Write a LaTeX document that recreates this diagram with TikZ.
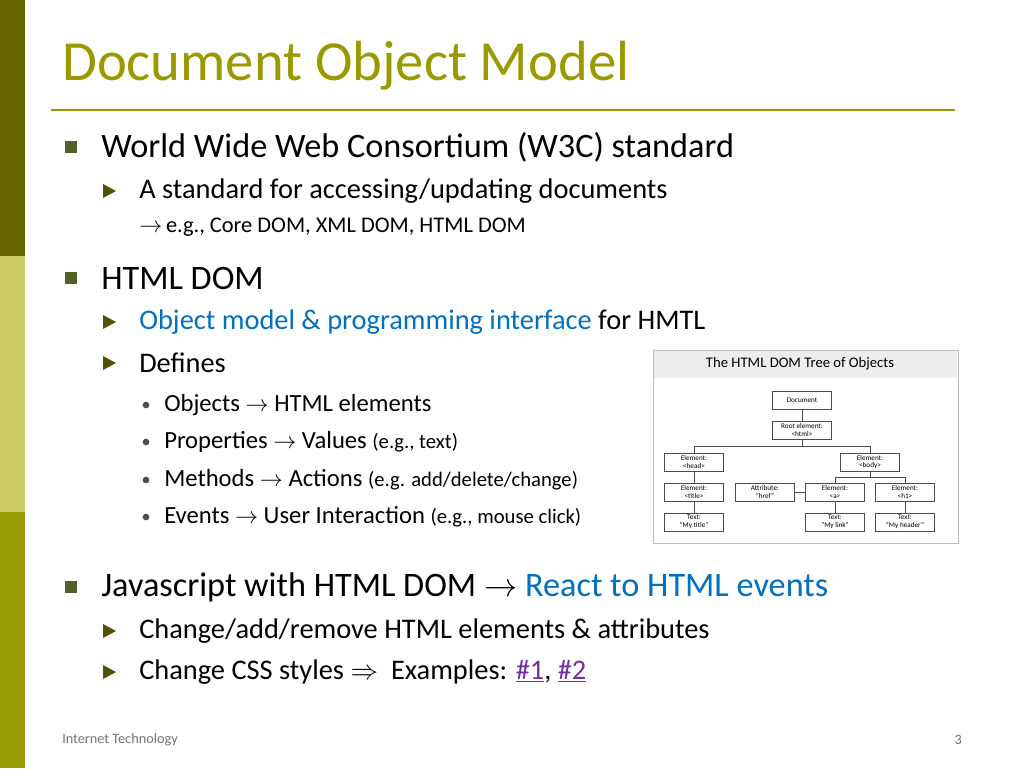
\documentclass[tikz,border=0pt]{standalone}
\usepackage{fontspec}
\setmainfont{Carlito}
\usetikzlibrary{positioning}
\definecolor{olive}{HTML}{999900}
\definecolor{darkolive}{HTML}{666600}
\definecolor{lightolive}{HTML}{CCCC66}
\definecolor{bulletgreen}{HTML}{4F6228}
\definecolor{linkblue}{HTML}{0070C0}
\definecolor{linkpurple}{HTML}{7030A0}
\newcommand{\rarr}{$\rightarrow$}
\newcommand{\remark}[1]{{\fontsize{15.5}{18}\selectfont #1}}

\begin{document}
\begin{tikzpicture}[x=0.75pt,y=-0.75pt]
    \tikzstyle{lvlone}=[anchor=west,inner sep=0pt,font=\fontsize{25.7}{30}\selectfont]
    \tikzstyle{lvltwo}=[anchor=west,inner sep=0pt,font=\fontsize{21.3}{25}\selectfont]
    \tikzstyle{lvlthree}=[anchor=west,inner sep=0pt,font=\fontsize{18.5}{22}\selectfont]
    \tikzstyle{sq}=[fill=bulletgreen,minimum size=9pt,inner sep=0pt]
    \tikzstyle{tri}=[fill=darkolive!80!black]
    \tikzstyle{dot}=[circle,fill=black!70,minimum size=5pt,inner sep=0pt]
    \tikzstyle{dom}=[draw=black!70,fill=white,minimum width=44pt,minimum height=13.5pt,inner sep=0pt,align=center,font=\fontsize{5.4}{5.8}\selectfont]
    \tikzstyle{link}=[draw=black!70,line width=0.6pt]

    \useasboundingbox (0,0) rectangle (1024,768);
    \fill[white] (0,0) rectangle (1024,768);
    % side bars
    \fill[darkolive] (0,0) rectangle (25,256);
    \fill[lightolive] (0,256) rectangle (25,512);
    \fill[olive] (0,512) rectangle (25,768);

    % title
    \node[anchor=west,inner sep=0pt,text=olive,font=\fontsize{42.5}{46}\selectfont] (title) at (62,66) {Document Object Model};
    \draw[olive,line width=1.5pt] (51,110) -- (955,110);

    % bullets
    \node[sq] (b1) at (71,147) {};
    \node[lvlone] (t1) at (101,147) {World Wide Web Consortium (W3C) standard};
    \fill[tri] (103,184) -- (116,191) -- (103,198) -- cycle;
    \node[lvltwo] (t11) at (139,191) {A standard for accessing/updating documents};
    \node[anchor=west,inner sep=0pt,font=\fontsize{16.8}{19}\selectfont] (t111) at (139,227) {\rarr\,e.g., Core DOM, XML DOM, HTML DOM};

    \node[sq] (b2) at (71,278) {};
    \node[lvlone] (t2) at (101,278) {HTML DOM};
    \fill[tri] (103,315) -- (116,322) -- (103,329) -- cycle;
    \node[lvltwo] (t21) at (139,322) {\textcolor{linkblue}{Object model \& programming interface} for HMTL};
    \fill[tri] (103,356) -- (116,363) -- (103,370) -- cycle;
    \node[lvltwo] (t22) at (139,363) {Defines};
    \node[dot] at (146,405) {};
    \node[lvlthree] (d1) at (164,405) {Objects \rarr\ HTML elements};
    \node[dot] at (146,442) {};
    \node[lvlthree] (d2) at (164,442) {Properties \rarr\ Values \remark{(e.g., text)}};
    \node[dot] at (146,480) {};
    \node[lvlthree] (d3) at (164,480) {Methods \rarr\ Actions \remark{(e.g. add/delete/change)}};
    \node[dot] at (146,517) {};
    \node[lvlthree] (d4) at (164,517) {Events \rarr\ User Interaction \remark{(e.g., mouse click)}};

    \node[sq] (b3) at (71,587) {};
    \node[lvlone] (t3) at (101,587) {Javascript with HTML DOM \rarr\ \textcolor{linkblue}{React to HTML events}};
    \fill[tri] (103,624) -- (116,631) -- (103,638) -- cycle;
    \node[lvltwo] (t31) at (139,631) {Change/add/remove HTML elements \& attributes};
    \fill[tri] (103,665) -- (116,672) -- (103,679) -- cycle;
    \node[lvltwo] (t32) at (139,672) {Change CSS styles $\Rightarrow$\ \ Examples: \textcolor{linkpurple}{\underline{\#1}}, \textcolor{linkpurple}{\underline{\#2}}};

    % footer
    \node[anchor=west,inner sep=0pt,text=black!55,font=\fontsize{10.7}{12}\selectfont] (foot) at (62,740) {Internet Technology};
    \node[anchor=east,inner sep=0pt,text=black!55,font=\fontsize{10.7}{12}\selectfont] (page) at (962,740) {3};

    % DOM tree picture
    \draw[black!25,fill=white] (653,350) rectangle (958,543);
    \fill[black!7] (654,351) rectangle (957,378);
    \node[font=\fontsize{11}{13}\selectfont] (treetitle) at (800,364) {The HTML DOM Tree of Objects};
    \node[dom] (doc) at (802,400) {Document};
    \node[dom] (root) at (802,430) {Root element:\\<html>};
    \node[dom] (head) at (694,462) {Element:\\<head>};
    \node[dom] (body) at (870,462) {Element:\\<body>};
    \node[dom] (ttl) at (694,492) {Element:\\<title>};
    \node[dom] (attr) at (765,492) {Attribute:\\"href"};
    \node[dom] (a) at (835,492) {Element:\\<a>};
    \node[dom] (hone) at (905,492) {Element:\\<h1>};
    \node[dom] (txtone) at (694,522) {Text:\\"My title"};
    \node[dom] (txttwo) at (835,522) {Text:\\"My link"};
    \node[dom] (txtthree) at (905,522) {Text:\\"My header"};
    \draw[link] (doc) -- (root);
    \draw[link] (root.south) -- ++(0,7) -| (head.north);
    \draw[link] (root.south) -- ++(0,7) -| (body.north);
    \draw[link] (head) -- (ttl);
    \draw[link] (ttl) -- (txtone);
    \draw[link] (body.south) -- ++(0,6) -| (a.north);
    \draw[link] (body.south) -- ++(0,6) -| (hone.north);
    \draw[link] (attr) -- (a);
    \draw[link] (a) -- (txttwo);
    \draw[link] (hone) -- (txtthree);
\end{tikzpicture}
\end{document}
